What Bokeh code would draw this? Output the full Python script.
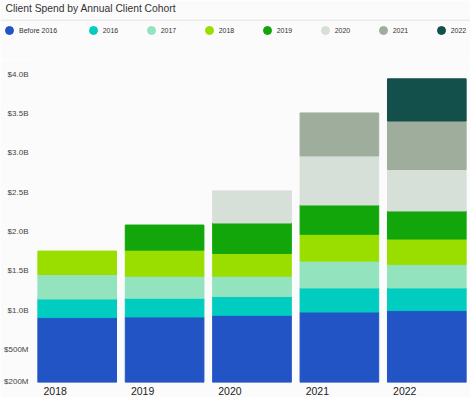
from bokeh.plotting import figure
from bokeh.layouts import column
from bokeh.models import (ColumnDataSource, Range1d, LinearAxis, Span,
                          FixedTicker, Legend, LegendItem, Title)
from bokeh.embed import file_html
from bokeh.resources import INLINE

nan = float("nan")

years = ["2018", "2019", "2020", "2021", "2022"]
cohorts = ["Before 2016", "2016", "2017", "2018", "2019", "2020", "2021", "2022"]
colors = ["#2254c5", "#00ccc0", "#93e3bf", "#9ade00", "#12a60a",
          "#d7dfd9", "#9fae9c", "#134f4b"]

# spend in $B per client cohort, per year
before_2016 = [0.907, 0.915, 0.936, 0.978, 0.996]
cohort_2016 = [0.237, 0.238, 0.239, 0.306, 0.288]
cohort_2017 = [0.311, 0.281, 0.259, 0.341, 0.299]
cohort_2018 = [0.298, 0.331, 0.289, 0.341, 0.323]
cohort_2019 = [nan, 0.319, 0.387, 0.373, 0.357]
cohort_2020 = [nan, nan, 0.408, 0.624, 0.527]
cohort_2021 = [nan, nan, nan, 0.546, 0.617]
cohort_2022 = [nan, nan, nan, nan, 0.536]

y_ticks = [0.1, 0.5, 1.0, 1.5, 2.0, 2.5, 3.0, 3.5, 4.0]
y_tick_labels = ["$200M", "$500M", "$1.0B", "$1.5B", "$2.0B", "$2.5B",
                 "$3.0B", "$3.5B", "$4.0B"]

series = [before_2016, cohort_2016, cohort_2017, cohort_2018,
          cohort_2019, cohort_2020, cohort_2021, cohort_2022]
x_pos = [i + 0.5 for i in range(len(years))]
data = {"x": x_pos, "year": years}
for name, vals in zip(cohorts, series):
    data[name] = vals
source = ColumnDataSource(data)

FONT = "Liberation Sans"
BG = "#fbfbfb"
W = 470
HEAD_H = 60
MAIN_H = 337

# ---------------- header: title + legend ----------------
h = figure(width=W, height=HEAD_H, output_backend="svg", toolbar_location=None,
           x_range=Range1d(0, W), y_range=Range1d(0, 47.5),
           x_axis_location=None, y_axis_location=None,
           min_border_left=0, min_border_right=0, min_border_top=0,
           min_border_bottom=0)
h.frame_align = False
h.background_fill_color = BG
h.border_fill_color = BG
h.outline_line_color = None
h.grid.visible = False

title = Title(text="Client Spend by Annual Client Cohort", align="left",
              offset=5, standoff=0, text_font=FONT, text_font_size="10.3px",
              text_font_style="normal", text_color="#333333")
h.add_layout(title, "above")

h.add_layout(Span(location=40.7, dimension="width", line_color="#e4e4e4",
                  line_width=1))

items = []
for i, (name, c) in enumerate(zip(cohorts, colors)):
    r = h.scatter(x=[nan], y=[nan], marker="circle", size=8, color=c)
    lab = name + " " * 9 if i == 0 else name
    items.append(LegendItem(label=lab, renderers=[r]))

legend = Legend(items=items, location=(-1, 20), orientation="horizontal",
                glyph_width=20, glyph_height=20, label_standoff=-2,
                label_width=30, label_height=20, spacing=8, padding=0, margin=0,
                border_line_color=None, background_fill_alpha=0,
                label_text_font=FONT, label_text_font_size="7px",
                label_text_color="#333333")
h.add_layout(legend, "center")

# ---------------- main chart ----------------
p = figure(x_range=Range1d(0, len(years)),
           y_range=Range1d(0.082, 4.176),
           width=W, height=MAIN_H, output_backend="svg", toolbar_location=None,
           x_axis_location=None,
           min_border_left=33, min_border_right=0, min_border_top=0,
           min_border_bottom=0)
p.frame_align = False

p.background_fill_color = BG
p.border_fill_color = BG
p.outline_line_color = None
p.xgrid.visible = False
p.ygrid.visible = False

p.vbar_stack(cohorts, x="x", width=0.9, color=colors, source=source)

ya = p.yaxis[0]
ya.ticker = FixedTicker(ticks=y_ticks)
ya.major_label_overrides = {t: l for t, l in zip(y_ticks, y_tick_labels)}
ya.major_label_text_font = FONT
ya.major_label_text_font_size = "8px"
ya.major_label_text_color = "#444444"
ya.major_tick_line_color = None
ya.major_tick_out = 0
ya.major_tick_in = 0
ya.minor_tick_line_color = None
ya.axis_line_color = None
ya.major_label_standoff = 5

shift = 0.252
x_ticks = [x - shift for x in x_pos]
xa = LinearAxis(ticker=FixedTicker(ticks=x_ticks),
                major_label_overrides={t: y for t, y in zip(x_ticks, years)})
xa.major_label_text_font = FONT
xa.major_label_text_font_size = "10.5px"
xa.major_label_text_color = "#222222"
xa.major_tick_line_color = None
xa.major_tick_out = 0
xa.major_tick_in = 0
xa.minor_tick_line_color = None
xa.axis_line_color = None
xa.major_label_standoff = 4
p.add_layout(xa, "below")

layout = column(h, p, spacing=0)
open("out.html", "w").write(file_html(layout, INLINE))
